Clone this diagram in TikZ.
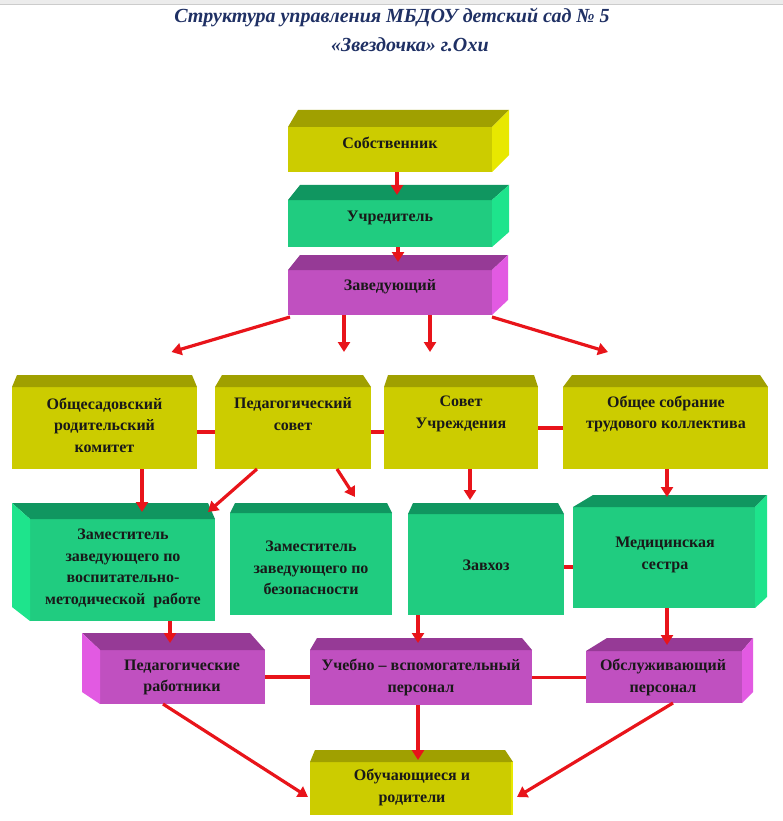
\documentclass[tikz,border=0pt]{standalone}
\usepackage{fontspec}
\setmainfont{Liberation Serif}
\usetikzlibrary{arrows.meta,calc}
\definecolor{yelF}{RGB}{204,204,0}
\definecolor{yelT}{RGB}{160,160,0}
\definecolor{yelS}{RGB}{232,232,0}
\definecolor{grnF}{RGB}{32,204,128}
\definecolor{grnT}{RGB}{16,150,96}
\definecolor{grnS}{RGB}{30,228,140}
\definecolor{purF}{RGB}{192,80,192}
\definecolor{purT}{RGB}{150,58,150}
\definecolor{purS}{RGB}{226,90,226}
\definecolor{arrR}{RGB}{232,20,26}
\definecolor{ttlC}{RGB}{31,48,100}
\definecolor{txtC}{RGB}{25,25,25}
\definecolor{barC}{RGB}{236,236,236}
\newcommand{\topf}[5]{\fill[#2] (#1.north west) -- ($(#1.north west)+(#3,-#5)$) -- ($(#1.north east)+(#4,-#5)$) -- (#1.north east) -- cycle;}
\newcommand{\rsidef}[5]{\fill[#2] (#1.north east) -- ($(#1.north east)+(#3,-#4)$) -- ($(#1.south east)+(#3,-#5)$) -- (#1.south east) -- cycle;}
\newcommand{\lsidef}[5]{\fill[#2] (#1.north west) -- ($(#1.north west)+(-#3,-#4)$) -- ($(#1.south west)+(-#3,-#5)$) -- (#1.south west) -- cycle;}
\tikzset{
  face/.style={inner sep=0pt, outer sep=0pt, draw=none},
  yb/.style={face, fill=yelF},
  gb/.style={face, fill=grnF},
  pb/.style={face, fill=purF},
  lbl/.style={font=\bfseries\fontsize{16}{21.5}\selectfont, align=center, text=txtC, inner sep=0pt},
  ttlfont/.style={font=\bfseries\itshape\fontsize{20}{24}\selectfont, text=ttlC, inner sep=0pt},
  arr/.style={draw=arrR, line width=3.2pt, -{Triangle[length=10pt,width=12pt]}},
  lnk/.style={draw=arrR, line width=3.5pt}
}
\begin{document}
\begin{tikzpicture}[x=1pt,y=-1pt]
\useasboundingbox (0,0) rectangle (783,821);
\fill[barC] (0,0) rectangle (783,4);
\draw[gray!40, line width=0.6pt] (0,4.3) -- (783,4.3);

% title
\node[ttlfont] (title1) at (392,17.5) {Структура управления МБДОУ детский сад № 5};
\node[ttlfont] (title2) at (410,44.5) {«Звездочка» г.Охи};

% row 1-3 (top stack)
\node[yb, minimum width=204pt, minimum height=45pt] (sob) at (390,149.5) {};
\topf{sob}{yelT}{10}{17}{17}
\rsidef{sob}{yelS}{17}{17}{17}
\node[gb, minimum width=204pt, minimum height=47pt] (uch) at (390,223.5) {};
\topf{uch}{grnT}{12}{17}{15}
\rsidef{uch}{grnS}{17}{15}{15}
\node[pb, minimum width=204pt, minimum height=45pt] (zav) at (390,292.5) {};
\topf{zav}{purT}{12}{16}{15}
\rsidef{zav}{purS}{16}{15}{15}

% row 2
\node[yb, minimum width=185pt, minimum height=82pt] (ob) at (104.5,428) {};
\topf{ob}{yelT}{5}{-5}{12}
\node[yb, minimum width=156pt, minimum height=82pt] (ps) at (293,428) {};
\topf{ps}{yelT}{7}{-8}{12}
\node[yb, minimum width=154pt, minimum height=82pt] (su) at (461,428) {};
\topf{su}{yelT}{4}{-4}{12}
\node[yb, minimum width=205pt, minimum height=82pt] (os) at (665.5,428) {};
\topf{os}{yelT}{9}{-8}{12}

% row 3
\node[gb, minimum width=185pt, minimum height=102pt] (zv) at (122.5,570) {};
\topf{zv}{grnT}{-18}{-7}{16}
\lsidef{zv}{grnS}{18}{16}{14}
\node[gb, minimum width=162pt, minimum height=102pt] (zb) at (311,564) {};
\topf{zb}{grnT}{5}{-5}{10}
\node[gb, minimum width=156pt, minimum height=101pt] (zx) at (486,564.5) {};
\topf{zx}{grnT}{5}{-6}{11}
\node[gb, minimum width=182pt, minimum height=101pt] (md) at (664,557.5) {};
\topf{md}{grnT}{20}{12}{12}
\rsidef{md}{grnS}{12}{12}{11}

% row 4
\node[pb, minimum width=165pt, minimum height=54pt] (pr) at (182.5,677) {};
\topf{pr}{purT}{-18}{-15}{17}
\lsidef{pr}{purS}{18}{17}{12}
\node[pb, minimum width=222pt, minimum height=55pt] (uv) at (421,677.5) {};
\topf{uv}{purT}{7}{-10}{12}
\node[pb, minimum width=156pt, minimum height=52pt] (obs) at (664,677) {};
\topf{obs}{purT}{21}{11}{13}
\rsidef{obs}{purS}{11}{13}{11}

% row 5
\node[yb, minimum width=203pt, minimum height=53pt] (uo) at (411.5,788.5) {};
\topf{uo}{yelT}{5}{-8}{12}
\fill[yelS] (uo.north east) rectangle ($(uo.south east)+(-2,0)$);

% labels
\node[lbl] (tsob) at (390,143) {Собственник};
\node[lbl] (tuch) at (390,218) {Учредитель};
\node[lbl] (tzav) at (390,287) {Заведующий};
\node[lbl] (tob) at (104.5,425) {Общесадовский\\родительский\\комитет};
\node[lbl] (tps) at (293,414) {Педагогический\\совет};
\node[lbl] (tsu) at (461,414) {Совет\\Учреждения};
\node[lbl] (tos) at (666,414) {Общее собрание\\трудового коллектива};
\node[lbl] (tzv) at (123,568.5) {Заместитель\\заведующего по\\воспитательно-\\методической~~работе};
\node[lbl] (tzb) at (311,568) {Заместитель\\заведующего по\\безопасности};
\node[lbl] (tzx) at (486,565) {Завхоз};
\node[lbl] (tmd) at (665,555) {Медицинская\\сестра};
\node[lbl] (tpr) at (182,677.5) {Педагогические\\работники};
\node[lbl] (tuv) at (421,677.5) {Учебно – вспомогательный\\персонал};
\node[lbl] (tobs) at (663,677.5) {Обслуживающий\\персонал};
\node[lbl] (tuo) at (412,787.5) {Обучающиеся и\\родители};

% horizontal links
\draw[lnk] ([yshift=-4pt]ob.east) -- ([yshift=-4pt]ps.west);
\draw[lnk] ([yshift=-4pt]ps.east) -- ([yshift=-4pt]su.west);
\draw[lnk] (su.east) -- (os.west);
\draw[lnk] ([yshift=-2.5pt]zx.east) -- ([yshift=-2.5pt]zx.east -| md.west);
\draw[lnk] (pr.east) -- (pr.east -| uv.west);
\draw[lnk] (uv.east) -- (uv.east -| obs.west);

% arrows
\draw[arr] ([xshift=7pt]sob.south) -- ([xshift=7pt,yshift=5pt]uch.north);
\draw[arr] ([xshift=8pt]uch.south) -- ([xshift=8pt,yshift=8pt]zav.north);
\draw[arr] ([xshift=2pt,yshift=-2pt]zav.south west) -- ([xshift=67pt,yshift=35pt]ob.north);
\draw[arr] ([xshift=-46pt]zav.south) -- ([xshift=51pt,yshift=35pt]ps.north);
\draw[arr] ([xshift=40pt]zav.south) -- ([xshift=-31pt,yshift=35pt]su.north);
\draw[arr] ([yshift=-2pt]zav.south east) -- ([xshift=-57.5pt,yshift=35pt]os.north);
\draw[arr] ([xshift=37.5pt]ob.south) -- ([xshift=19.5pt,yshift=7pt]zv.north);
\draw[arr] ([xshift=-36pt]ps.south) -- ([xshift=-7pt,yshift=7pt]zv.north east);
\draw[arr] ([xshift=44pt]ps.south) -- ([xshift=44pt,yshift=16pt]zb.north);
\draw[arr] ([xshift=9pt]su.south) -- ([xshift=-16pt,yshift=14pt]zx.north);
\draw[arr] ([xshift=1.5pt]os.south) -- ([xshift=3pt,yshift=10pt]md.north);
\draw[arr] ([xshift=47.5pt]zv.south) -- ([xshift=-12.5pt,yshift=7pt]pr.north);
\draw[arr] ([xshift=-68pt]zx.south) -- ([xshift=-3pt,yshift=7pt]uv.north);
\draw[arr] ([xshift=3pt]md.south) -- ([xshift=3pt,yshift=6pt]obs.north);
\draw[arr] ([xshift=-19.5pt]pr.south) -- ([xshift=-2pt,yshift=-8.5pt]uo.west);
\draw[arr] ([xshift=-3pt]uv.south) -- ([xshift=6.5pt,yshift=2pt]uo.north);
\draw[arr] ([xshift=9pt]obs.south) -- ([xshift=4pt,yshift=-8.5pt]uo.east);
\end{tikzpicture}
\end{document}
